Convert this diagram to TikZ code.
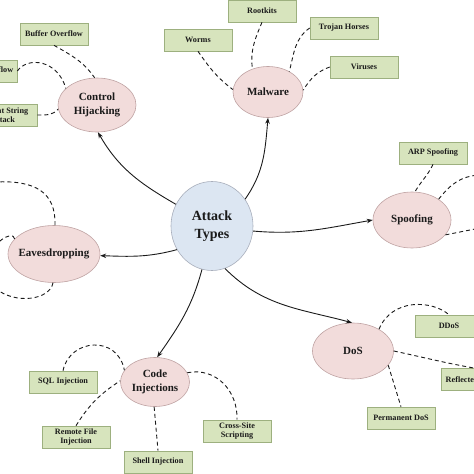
\documentclass[tikz,border=0pt]{standalone}
\usepackage{fontspec}
\setmainfont{Liberation Serif}
\usetikzlibrary{shapes.geometric,arrows.meta}
\definecolor{boxfill}{HTML}{D7E4BD}
\definecolor{boxline}{HTML}{9DB07F}
\definecolor{ellfill}{HTML}{F2DCDB}
\definecolor{ellline}{HTML}{BFA3A3}
\definecolor{ctrfill}{HTML}{DCE6F2}
\definecolor{ctrline}{HTML}{A8AEBB}
\definecolor{ink}{HTML}{1A1A1A}
\begin{document}
\begin{tikzpicture}[x=1pt,y=1pt,
  leaf/.style={rectangle, draw=boxline, fill=boxfill, line width=0.6pt,
    minimum width=68pt, minimum height=22pt, inner sep=1pt,
    font=\fontsize{8.2}{9.4}\selectfont\bfseries, text=ink, align=center},
  cat/.style={ellipse, draw=ellline, fill=ellfill, line width=0.6pt,
    inner sep=-3pt, font=\fontsize{11}{14}\selectfont\bfseries, text=ink, align=center},
  hub/.style={ellipse, draw=ctrline, fill=ctrfill, line width=0.6pt,
    inner sep=0pt, font=\fontsize{14}{18}\selectfont\bfseries, text=ink, align=center},
  link/.style={-{Stealth[length=6pt,width=4.5pt]}, line width=0.9pt, draw=ink},
  dlink/.style={dash pattern=on 4pt off 3pt, line width=0.9pt, draw=ink}]
\useasboundingbox (0,0) rectangle (474,-474);
\clip (0,0) rectangle (474,-474);

% category nodes
\node[hub, minimum width=82pt, minimum height=89pt] (at) at (212,-226) {Attack\\Types};
\node[cat, minimum width=78pt, minimum height=54pt] (ch) at (97,-105) {Control\\Hijacking};
\node[cat, minimum width=70pt, minimum height=51pt] (mw) at (268,-92) {Malware};
\node[cat, minimum width=78pt, minimum height=56pt] (sp) at (412,-220) {Spoofing};
\node[cat, minimum width=92pt, minimum height=57pt] (ev) at (54,-254) {Eavesdropping};
\node[cat, minimum width=81pt, minimum height=56pt] (ds) at (353,-351) {DoS};
\node[cat, minimum width=69pt, minimum height=49pt] (ci) at (155,-382) {Code\\Injections};

% leaf nodes
\node[leaf] (bo) at (54,-34) {Buffer Overflow};
\node[leaf] (io) at (-17,-71) {Integer Overflow};
\node[leaf] (fs) at (3,-115) {Format String\\Attack};
\node[leaf] (rk) at (262,-11) {Rootkits};
\node[leaf] (wo) at (198,-40) {Worms};
\node[leaf] (tj) at (344,-28) {Trojan Horses};
\node[leaf] (vi) at (364,-67) {Viruses};
\node[leaf] (arp) at (433,-153) {ARP Spoofing};
\node[leaf] (dd) at (449,-326) {DDoS};
\node[leaf] (rf) at (475,-379.5) {Reflected Attack};
\node[leaf] (pd) at (401,-418) {Permanent DoS};
\node[leaf] (sql) at (63,-382) {SQL Injection};
\node[leaf] (rfi) at (76,-437) {Remote File\\Injection};
\node[leaf] (sh) at (158,-462) {Shell Injection};
\node[leaf] (xss) at (237,-431) {Cross-Site\\Scripting};

% free ends leaving the picture
\coordinate (evA) at (-5,-182);
\coordinate (evB) at (-5,-246);
\coordinate (evC) at (-5,-288);
\coordinate (spA) at (480,-175);
\coordinate (spB) at (480,-228);

% solid arrows
\draw[link] (at.149) to[out=150,in=-60] (ch.-88);
\draw[link] (at.39) to[out=55,in=-95] (mw.-90);
\draw[link] (at.-7) to[out=-5,in=190] (sp.180);
\draw[link] (at.214) to[out=195,in=-2] (ev.-2);
\draw[link] (at.257) to[out=255,in=55] (ci.85);
\draw[link] (at.-73) to[out=-45,in=165] (ds.92);

% dashed links
\draw[dlink] (bo.south) to[out=-30,in=125] (ch.95);
\draw[dlink] (io.east) .. controls (28,-56) and (58,-60) .. (ch.152);
\draw[dlink] (fs.east) to[out=0,in=-130] (ch.186);
\draw[dlink] (wo.south) to[out=-55,in=143] (mw.176);
\draw[dlink] (rk.south) to[out=-113,in=97] (mw.124);
\draw[dlink] (tj.west) to[out=215,in=75] (mw.44);
\draw[dlink] (vi.west) to[out=200,in=58] (mw.3);
\draw[dlink] (arp.south) to[out=-115,in=60] (sp.84);
\draw[dlink] (sp.38) .. controls (450,-185) and (460,-176) .. (spA);
\draw[dlink] (sp.-24) -- (spB);
\draw[dlink] (ev.88) .. controls (56,-192) and (35,-180) .. (evA);
\draw[dlink] (ev.159) .. controls (15,-234) and (5,-234) .. (evB);
\draw[dlink] (ev.-92) .. controls (50,-300) and (15,-305) .. (evC);
\draw[dlink] (ds.40) .. controls (392,-298) and (432,-300) .. (dd.north);
\draw[dlink] (ds.0) to[out=-12,in=170] (rf.north);
\draw[dlink] (ds.-22) -- (pd.north);
\draw[dlink] (sql.north) .. controls (70,-338) and (118,-335) .. (ci.159);
\draw[dlink] (rfi.north) to[out=58,in=213] (ci.178);
\draw[dlink] (ci.-92) -- (sh.north);
\draw[dlink] (ci.16) .. controls (215,-367) and (238,-390) .. (xss.north);
\end{tikzpicture}
\end{document}
